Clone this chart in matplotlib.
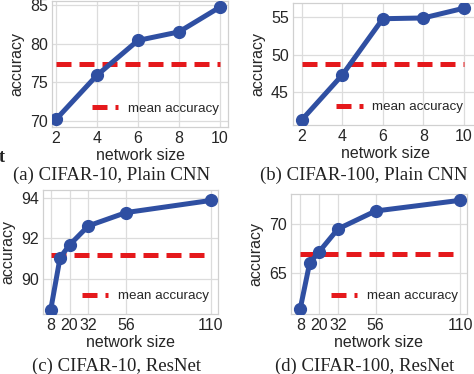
import matplotlib
matplotlib.use("Agg")
import matplotlib.pyplot as plt

# dati
plain_sizes = [2, 4, 6, 8, 10]
plain_c10 = [70.2, 75.9, 80.4, 81.5, 84.7]
plain_c10_mean = 77.3
plain_c100 = [41.3, 47.3, 54.8, 54.9, 56.2]
plain_c100_mean = 48.7

resnet_sizes = [8, 14, 20, 32, 56, 110]
resnet_ticks = [8, 20, 32, 56, 110]
resnet_c10 = [88.45, 91.05, 91.67, 92.62, 93.28, 93.88]
resnet_c10_mean = 91.2
resnet_c100 = [61.3, 66.0, 67.15, 69.5, 71.35, 72.45]
resnet_c100_mean = 66.9

captions = ["(a) CIFAR-10, Plain CNN", "(b) CIFAR-100, Plain CNN",
            "(c) CIFAR-10, ResNet", "(d) CIFAR-100, ResNet"]

plt.rcParams['font.family'] = ['Liberation Sans', 'DejaVu Sans']
plt.rcParams['text.color'] = '.15'
plt.rcParams['axes.labelcolor'] = '.15'
plt.rcParams['xtick.color'] = '.15'
plt.rcParams['ytick.color'] = '.15'

W, H = 474, 374
fig = plt.figure(figsize=(W / 100, H / 100), dpi=100)
fig.patch.set_facecolor('white')

blue = '#2f4fa2'
red = '#e5191c'


def make_ax(l, r, t, b):
    return fig.add_axes([l / W, 1 - b / H, (r - l) / W, (b - t) / H])


def draw(ax, x, y, mean, xlim, ylim, xticks, yticks):
    ax.plot(x, y, color=blue, linewidth=3.6, marker='o', markersize=8.5, zorder=3)
    # la linea della media va solo da min a max della x
    ax.plot([x[0], x[-1]], [mean, mean], color=red, linewidth=3.6,
            dashes=(3.0, 1.6), label='mean accuracy', zorder=2)
    ax.set_xlim(*xlim)
    ax.set_ylim(*ylim)
    ax.set_xticks(xticks)
    ax.set_yticks(yticks)
    ax.tick_params(length=0, labelsize=11.5, pad=3)
    ax.grid(True, color='#dcdcdc', linewidth=0.9)
    ax.set_axisbelow(True)
    for s in ax.spines.values():
        s.set_color('#d0d0d0')
        s.set_linewidth(0.9)
    ax.set_xlabel("network size", fontsize=11.5, labelpad=1)
    ax.set_ylabel("accuracy", fontsize=11.5, labelpad=4)
    ax.legend(loc='lower right', bbox_to_anchor=(1.0, 0.02), frameon=False, fontsize=9.6,
              handlelength=2.0, handletextpad=0.7, borderaxespad=0.3)
    return ax


ax1 = make_ax(52, 228, 1, 127)
draw(ax1, plain_sizes, plain_c10, plain_c10_mean, (1.8, 10.4), (69.2, 85.5),
     plain_sizes, [70, 75, 80, 85])

ax2 = make_ax(293, 478, 3, 125)
draw(ax2, plain_sizes, plain_c100, plain_c100_mean, (1.56, 10.7), (40.6, 56.9),
     plain_sizes, [45, 50, 55])
# legenda spostata a sinistra perche' l'asse esce dall'immagine
ax2.legend(loc='lower right', bbox_to_anchor=(0.97, 0.02), frameon=False, fontsize=9.6,
           handlelength=2.0, handletextpad=0.7, borderaxespad=0.3)

ax3 = make_ax(43, 218, 190, 314)
draw(ax3, resnet_sizes, resnet_c10, resnet_c10_mean, (3.1, 114.7), (88.25, 94.4),
     resnet_ticks, [90, 92, 94])

ax4 = make_ax(291, 467, 194, 314)
draw(ax4, resnet_sizes, resnet_c100, resnet_c100_mean, (2.1, 114.3), (60.75, 73.1),
     resnet_ticks, [65, 70])

# didascalie in serif
cap_pos = [(112, 180), (364, 180), (116, 371), (365, 371)]
for (cx, cy), txt in zip(cap_pos, captions):
    fig.text(cx / W, 1 - cy / H, txt, ha='center', va='baseline',
             family=['Liberation Serif', 'DejaVu Serif'], fontsize=13.5, color='#222222')

# lettera tagliata sul bordo sinistro
fig.text(-1 / W, 1 - 162 / H, "t", ha='left', va='baseline',
         family=['Liberation Serif', 'DejaVu Serif'], fontweight='bold', fontsize=13, color='#222222')

fig.savefig("out.png", dpi=100)
